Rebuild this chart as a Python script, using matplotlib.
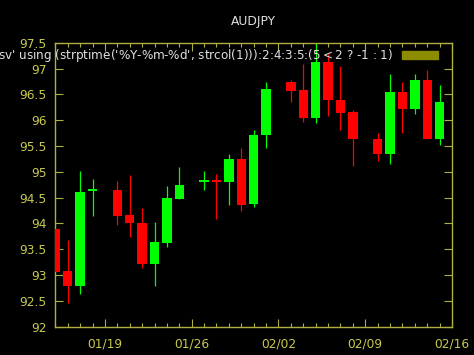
import numpy as np
import matplotlib.pyplot as plt
import matplotlib.dates as mdates
from matplotlib.ticker import FuncFormatter, MultipleLocator
from datetime import datetime

# AUDJPY daily candles
dates = ['2014-01-15', '2014-01-16', '2014-01-17', '2014-01-18',
         '2014-01-20', '2014-01-21', '2014-01-22', '2014-01-23', '2014-01-24', '2014-01-25',
         '2014-01-27', '2014-01-28', '2014-01-29', '2014-01-30', '2014-01-31', '2014-02-01',
         '2014-02-03', '2014-02-04', '2014-02-05', '2014-02-06', '2014-02-07', '2014-02-08',
         '2014-02-10', '2014-02-11', '2014-02-12', '2014-02-13', '2014-02-14', '2014-02-15']
opens = [93.89, 93.07, 92.79, 94.62,
         94.65, 94.16, 94.01, 93.22, 93.63, 94.47,
         94.81, 94.83, 94.80, 95.25, 94.37, 95.71,
         96.73, 96.58, 96.04, 97.13, 96.40, 96.15,
         95.64, 95.34, 96.55, 96.21, 96.78, 95.63]
highs = [93.90, 93.68, 95.02, 94.87,
         94.82, 94.94, 94.30, 94.03, 94.72, 95.09,
         95.01, 94.96, 95.34, 95.46, 95.81, 96.73,
         96.78, 97.09, 97.60, 97.29, 97.04, 96.20,
         95.75, 96.89, 96.73, 96.89, 96.98, 96.68]
lows = [93.05, 92.45, 92.63, 94.15,
        93.96, 93.73, 93.13, 92.78, 93.55, 94.47,
        94.65, 94.08, 94.36, 94.25, 94.32, 95.46,
        96.36, 95.97, 95.94, 96.09, 95.81, 95.12,
        95.21, 95.16, 95.76, 96.11, 95.63, 95.51]
closes = [93.05, 92.79, 94.61, 94.66,
          94.15, 94.01, 93.22, 93.64, 94.49, 94.74,
          94.83, 94.81, 95.25, 94.36, 95.71, 96.60,
          96.57, 96.04, 97.13, 96.40, 96.14, 95.63,
          95.34, 96.55, 96.22, 96.78, 95.63, 96.36]

title = 'AUDJPY'
key_label = "'AUDJPY.csv' using (strptime('%Y-%m-%d', strcol(1))):2:4:3:5:($5 < $2 ? -1 : 1)"

fg = '#c8c850'
border = '#b0b040'
up_color = '#00ff00'
down_color = '#ff0000'

fig = plt.figure(figsize=(4.74, 3.55), dpi=100, facecolor='black')
ax = fig.add_axes([0.1167, 0.0797, 0.837, 0.80], facecolor='black')

x = mdates.date2num([datetime.strptime(d, '%Y-%m-%d') for d in dates])
o = np.array(opens)
c = np.array(closes)
colors = [up_color if cc >= oo else down_color for oo, cc in zip(o, c)]

# wicks then bodies
ax.vlines(x, lows, highs, colors=colors, linewidth=0.9, zorder=2)
body_h = np.maximum(np.abs(c - o), 0.03)
body_bot = np.minimum(o, c) - (body_h - np.abs(c - o)) / 2
ax.bar(x, body_h, bottom=body_bot, width=0.75, color=colors, linewidth=0, zorder=3)

ax.set_xlim(mdates.date2num(datetime(2014, 1, 15)), mdates.date2num(datetime(2014, 2, 16)))
ax.set_ylim(92, 97.5)

ax.xaxis.set_major_locator(mdates.WeekdayLocator(byweekday=mdates.SU))
ax.xaxis.set_minor_locator(mdates.DayLocator())
ax.xaxis.set_major_formatter(mdates.DateFormatter('%m/%d'))
ax.yaxis.set_major_locator(MultipleLocator(0.5))
ax.yaxis.set_major_formatter(FuncFormatter(lambda v, p: '%g' % v))

ax.tick_params(which='both', direction='in', colors=border, labelcolor=fg,
               labelsize=8.8, top=True, right=True)
ax.tick_params(which='major', length=6, width=0.8)
ax.tick_params(which='minor', length=3, width=0.8)
ax.tick_params(axis='x', pad=8)
ax.tick_params(axis='y', pad=6)
for s in ax.spines.values():
    s.set_color(border)
    s.set_linewidth(1.0)

fig.text(0.534, 0.94, title, color='#e0e0e0', fontsize=8.8, ha='center', va='center')

# key entry, right aligned like gnuplot, text runs off the left edge
fig.text(393 / 474, 1 - 55 / 355, key_label, color='#e0e0e0', fontsize=8.68,
         ha='right', va='center')
fig.patches.append(plt.Rectangle((401.7 / 474, 1 - 58.7 / 355), 36 / 474, 7.7 / 355,
                                 transform=fig.transFigure, color='#8c8c00', figure=fig))

fig.savefig('out.png', dpi=100, facecolor='black')
